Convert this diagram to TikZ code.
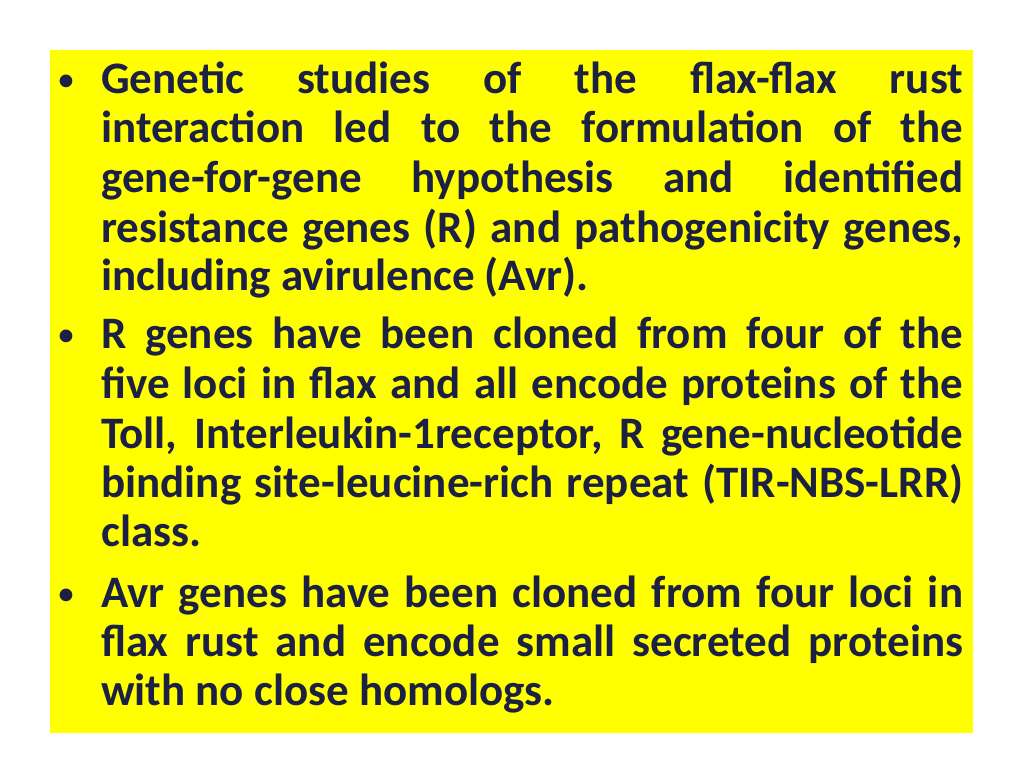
\documentclass[tikz,border=0pt]{standalone}
\usepackage{fontspec}
\setmainfont{Carlito}
\definecolor{txt}{RGB}{28,32,66}
\definecolor{bg}{RGB}{255,255,0}
\begin{document}
\begin{tikzpicture}[x=1pt,y=-1pt,
  ln/.style={anchor=base west,inner sep=0pt,font=\fontsize{45}{50}\selectfont\bfseries,text=txt},
  bl/.style={anchor=base west,inner sep=0pt,font=\fontsize{36}{40}\selectfont,text=txt}]
\useasboundingbox (0,0) rectangle (1024,768);
\fill[bg] (50,50) rectangle (973,733);
\newcommand{\J}[1]{\makebox[862pt][s]{#1}}
\node[bl] (b1) at (57,91) {•};
\node[ln] (l1) at (101,93) {\J{Genetic studies of the flax-flax rust}};
\node[ln] (l2) at (101,142) {\J{interaction led to the formulation of the}};
\node[ln] (l3) at (101,192) {\J{gene-for-gene hypothesis and identified}};
\node[ln] (l4) at (101,242) {\J{resistance genes (R) and pathogenicity genes,}};
\node[ln] (l5) at (101,290) {including avirulence (Avr).};
\node[bl] (b2) at (57,346) {•};
\node[ln] (l6) at (101,348) {\J{R genes have been cloned from four of the}};
\node[ln] (l7) at (101,398) {\J{five loci in flax and all encode proteins of the}};
\node[ln] (l8) at (101,448) {\J{Toll, Interleukin-1receptor, R gene-nucleotide}};
\node[ln] (l9) at (101,497) {\J{binding site-leucine-rich repeat (TIR-NBS-LRR)}};
\node[ln] (l10) at (101,546) {class.};
\node[bl] (b3) at (57,605) {•};
\node[ln] (l11) at (101,607) {\J{Avr genes have been cloned from four loci in}};
\node[ln] (l12) at (101,656) {\J{flax rust and encode small secreted proteins}};
\node[ln] (l13) at (101,705) {with no close homologs.};
\end{tikzpicture}
\end{document}
